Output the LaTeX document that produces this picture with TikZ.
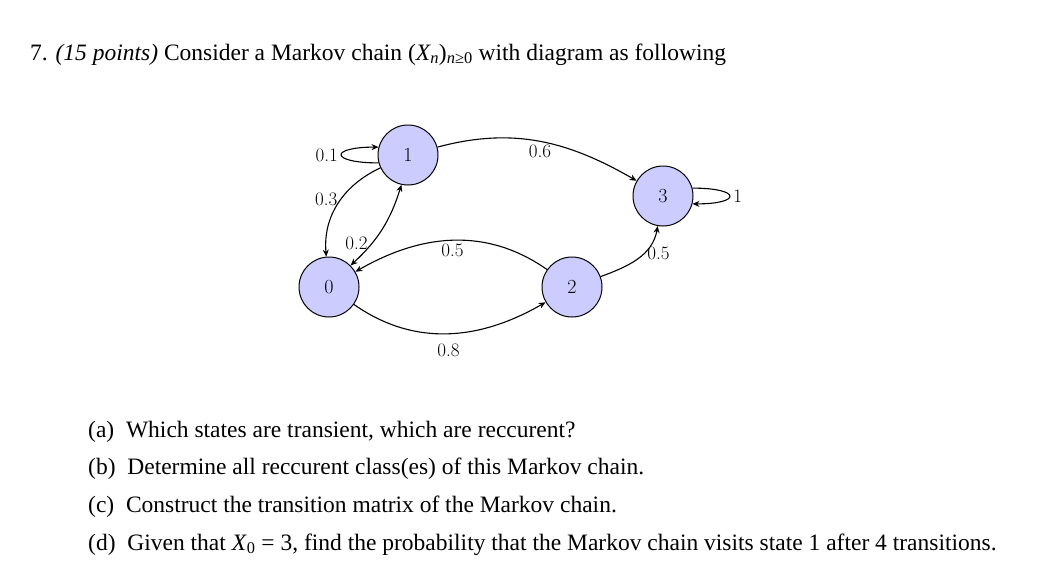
\documentclass[tikz,border=0pt]{standalone}
\usepackage{fontspec}
\setmainfont{Liberation Serif}
\usetikzlibrary{arrows.meta}
\newfontfamily\lmr{Latin Modern Roman}
\begin{document}
\begin{tikzpicture}[x=1pt,y=-1pt,
  st/.style={circle,draw,line width=1pt,fill=blue!20,minimum size=60pt,inner sep=0pt,font=\lmr\fontsize{20}{20}\selectfont},
  lb/.style={font=\lmr\fontsize{19}{19}\selectfont},
  ed/.style={-{Stealth[length=7pt,width=6pt]},line width=1.1pt},
  tx/.style={anchor=base west,inner sep=0pt,font=\fontsize{23.5}{28}\selectfont}]
\useasboundingbox (0,0) rectangle (1052,571);
\node[tx] (title) at (30,60) {7. \textit{(15 points)} Consider a Markov chain (\textit{X\textsubscript{n}})\textsubscript{\textit{n}≥0} with diagram as following};
\node[st] (n1) at (408,155) {1};
\node[st] (n0) at (329,287) {0};
\node[st] (n2) at (572,287) {2};
\node[st] (n3) at (663,196) {3};
\draw[ed] (n1) to[out=205,in=95] node[lb,left,pos=0.45] {0.3} (n0);
\draw[ed,{Stealth[length=7pt,width=6pt]}-{Stealth[length=7pt,width=6pt]}] (n0.45) to[bend right=15] node[lb,left,pos=0.3] {0.2} (n1);
\draw[ed] (n2) to[out=145,in=30] node[lb,below,pos=0.5] {0.5} (n0);
\draw[ed] (n0) to[out=-35,in=210] node[lb,below=6pt,pos=0.5] {0.8} (n2);
\draw[ed] (n1) to[out=15,in=150] node[lb,below,pos=0.5] {0.6} (n3);
\draw[ed] (n2) to[out=20,in=260] node[lb,right,pos=0.6] {0.5} (n3);
\draw[ed] (n1.195) to[out=180,in=180,looseness=8] node[lb,left] {0.1} (n1.165);
\draw[ed] (n3.15) to[out=0,in=0,looseness=8] node[lb,right] {1} (n3.-15);
\node[tx] (a) at (88,437) {(a)\ \ Which states are transient, which are reccurent?};
\node[tx] (b) at (88,474) {(b)\ \ Determine all reccurent class(es) of this Markov chain.};
\node[tx] (c) at (88,512) {(c)\ \ Construct the transition matrix of the Markov chain.};
\node[tx] (d) at (88,550) {(d)\ \ Given that \textit{X}\textsubscript{0} = 3, find the probability that the Markov chain visits state 1 after 4 transitions.};
\end{tikzpicture}
\end{document}
